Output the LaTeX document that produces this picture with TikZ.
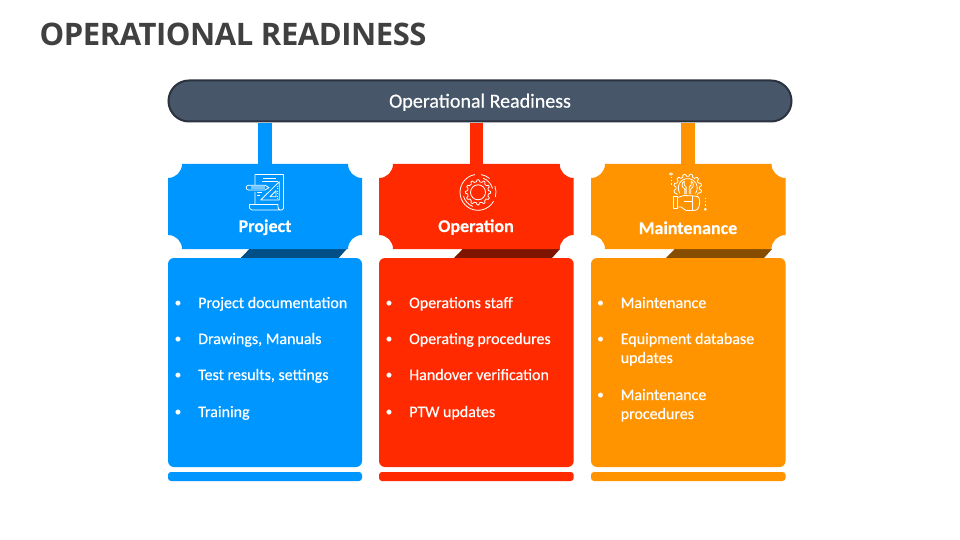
\documentclass[tikz,border=0pt]{standalone}
\usepackage{fontspec}
\setmainfont{Carlito}
\newfontfamily\titlefont[LetterSpace=-1.45]{Open Sans}
\newfontfamily\semifont[FakeBold=0.5]{Carlito}
\newfontfamily\headfont[FakeBold=0.4]{Carlito Bold}
\definecolor{cblue}{HTML}{0096FF}
\definecolor{cred}{HTML}{FF2A00}
\definecolor{corange}{HTML}{FF9300}
\definecolor{dblue}{HTML}{004F86}
\definecolor{dred}{HTML}{7D1500}
\definecolor{dorange}{HTML}{864D00}
\definecolor{pillfill}{HTML}{475669}
\definecolor{pillline}{HTML}{2A3240}
\definecolor{titlegray}{HTML}{404040}
\tikzset{
  x=1pt,y=-1pt,
  pill/.style={draw=pillline,line width=2pt,fill=pillfill,rounded corners=20.5pt,minimum width=623pt,minimum height=41pt,inner sep=0pt},
  pilltext/.style={text=white,inner sep=0pt,font=\semifont\fontsize{20}{22}\selectfont},
  anchorbox/.style={minimum width=194pt,minimum height=85pt,inner sep=0pt},
  cardtitle/.style={text=white,font=\headfont\fontsize{18}{20}\selectfont,inner sep=0pt,text height=12.5pt,text depth=4pt},
  item/.style={text=white,font=\semifont\fontsize{16}{19}\selectfont,anchor=west,inner sep=0pt,align=left,text height=11pt,text depth=3.5pt},
  bul/.style={text=white,font=\fontsize{14}{16}\selectfont,inner sep=0pt},
  icon/.style={draw=white,line width=0.8pt,line join=round},
  stem/.style={line width=13.5pt},
}
% #1 name, #2 left x, #3 colour, #4 dark colour, #5 width, #6 offset of the dark band
\newcommand{\card}[6]{%
  \fill[#4] (#2+#6,258) -- (#2+#6+8.7,249) -- (#2+#6+106,249) -- (#2+#6+98,258) -- cycle;
  \fill[#3] (#2+14,164) -- (#2+#5-14,164)
     arc[start angle=180,end angle=270,radius=14pt] -- (#2+#5,235)
     arc[start angle=90,end angle=180,radius=14pt] -- (#2+14,249)
     arc[start angle=0,end angle=90,radius=14pt] -- (#2,178)
     arc[start angle=-90,end angle=0,radius=14pt] -- cycle;
  \node[anchorbox] (#1) at (#2+#5/2,206.5) {};
  \fill[#3,rounded corners=6pt] (#2,258) rectangle (#2+#5,467);
  \fill[#3,rounded corners=3pt] (#2,472) rectangle (#2+#5,481);
}
\newcommand{\bulletitem}[4]{% name, x, y, text
  \node[bul] (#1b) at (#2+10,#3-0.5) {•};
  \node[item] (#1) at (#2+30,#3) {#4};
}
\begin{document}
\begin{tikzpicture}
\useasboundingbox (0,0) rectangle (960,540);
\fill[white] (0,0) rectangle (960,540);
\node[anchor=west,inner sep=0pt,text=titlegray,font=\titlefont\fontsize{31}{36}\selectfont\bfseries] (title) at (39.5,34) {OPERATIONAL READINESS};

\card{project}{168}{cblue}{dblue}{194}{72.7}
\card{operation}{379}{cred}{dred}{194.7}{75}
\card{maintenance}{591}{corange}{dorange}{194.5}{75}

\node[pill] (top) at (480,101) {};
\node[pilltext] (toplabel) at (480,102.3) {Operational Readiness};

\coordinate (sa) at (265,0);
\coordinate (sb) at (476.5,0);
\coordinate (sc) at (688,0);
\draw[stem,cblue] (top.south -| sa) ++(0,0.8) -- (project.north -| sa);
\draw[stem,cred] (top.south -| sb) ++(0,0.8) -- (operation.north -| sb);
\draw[stem,corange] (top.south -| sc) ++(0,0.8) -- (maintenance.north -| sc);

\node[cardtitle] (tp) at (265,227.8) {Project};
\node[cardtitle] (to) at (476,227.8) {Operation};
\node[cardtitle] (tm) at (688,229.8) {Maintenance};

\bulletitem{a1}{168}{304.3}{Project documentation}
\bulletitem{a2}{168}{340.3}{Drawings, Manuals}
\bulletitem{a3}{168}{376.3}{Test results, settings}
\bulletitem{a4}{168}{413.3}{Training}

\bulletitem{b1}{379}{304.3}{Operations staff}
\bulletitem{b2}{379}{340.3}{Operating procedures}
\bulletitem{b3}{379}{376.3}{Handover verification}
\bulletitem{b4}{379}{413.3}{PTW updates}

\bulletitem{c1}{590.5}{304.3}{Maintenance}
\bulletitem{c2}{590.5}{340.3}{Equipment database}
\node[item] (c2x) at (620.5,359.3) {updates};
\bulletitem{c3}{590.5}{396.3}{Maintenance}
\node[item] (c3x) at (620.5,415.3) {procedures};

% Project icon
\draw[icon] (255,204) -- (255,192) (255,185) -- (255,174.5) -- (283.5,174.5) -- (283.5,208) .. controls (283.5,211) and (278,211) .. (278,207) -- (278,204.5) -- (249.5,204.5) .. controls (249,208) and (250,210) .. (252,210) -- (281,210);
\draw[icon] (262.5,178.5) -- (276,178.5) (261.5,181) -- (277.5,181) (257,192.5) -- (262,192.5) (257,195) -- (260,195);
\draw[icon,fill=cblue] (248.5,185.2) -- (265,185.2) -- (269,187.6) -- (265,190) -- (248.5,190) .. controls (245.5,190) and (245.5,185.2) .. (248.5,185.2) -- cycle;
\fill[white,opacity=.45] (251,186.3) rectangle (265,188.9);
\draw[icon,fill=cblue] (260.7,200) -- (279.3,181.7) -- (279.3,200) -- cycle;
\draw[icon] (270,196.7) -- (276,190.7) -- (276,196.7) -- cycle;
\draw[white,line width=0.6pt,dash pattern=on 0.8pt off 1.6pt] (277.6,186) -- (277.6,199);

% Operation icon (y axis points up in these scopes)
\begin{scope}[shift={(478,192.3)},y=1pt]
\draw[icon] (100:18) arc[start angle=100,end angle=330,radius=18pt];
\draw[icon] (80:18) arc[start angle=80,end angle=50,radius=18pt];
\draw[icon] (20:18) arc[start angle=20,end angle=-15,radius=18pt];
\draw[icon] (70:15) arc[start angle=70,end angle=15,radius=15pt];
\draw[icon] (250:15) arc[start angle=250,end angle=195,radius=15pt];
\draw[icon] (0:12.6)
  \foreach \a in {0,30,...,330} {
    -- ({\a+4}:12.6) -- ({\a+9}:10.6) -- ({\a+21}:10.6) -- ({\a+26}:12.6)
  } -- cycle;
\draw[icon] (0,0) circle[radius=7.5pt];
\end{scope}

% Maintenance icon
\begin{scope}[shift={(687.7,188)},y=1pt]
\draw[icon] (212:12)
  \foreach \a in {195,165,...,-15} {
    -- ({\a+5}:14) -- ({\a-5}:14) -- ({\a-10}:11.7) -- ({\a-20}:11.7)
  };
\draw[icon] (215:9.5) arc[start angle=215,end angle=-35,radius=9.5pt];
\draw[icon] (-3.5,7) -- (-3.5,3) -- (-1.6,1) -- (-1.6,-6) (3.5,7) -- (3.5,3) -- (1.6,1) -- (1.6,-6)
  (-3.5,7) .. controls (-6.5,5) and (-6.5,1) .. (-3,-1) -- (-3,-6)
  (3.5,7) .. controls (6.5,5) and (6.5,1) .. (3,-1) -- (3,-6);
\end{scope}
\draw[icon,fill=corange] (673,196) rectangle (677.5,208.5);
\draw[icon,fill=corange] (677.5,197.5) -- (684,195.5) -- (695,196) .. controls (700,196) and (700,200) .. (699.5,204) .. controls (699,209) and (697,210.5) .. (693,210.5) -- (686,210.5) -- (681,207) -- (677.5,207) -- cycle;
\draw[icon] (684,201) -- (692,201) (692,196) -- (692,210);
\draw[icon] (671,174) ellipse[x radius=1.6pt,y radius=1.1pt];
\draw[white,line width=0.8pt,dash pattern=on 1.2pt off 2pt] (671,177) -- (671,185);
\draw[white,line width=0.8pt,dash pattern=on 1.2pt off 2pt] (705.3,198) -- (705.3,207);
\draw[icon] (705.3,209.3) circle[radius=1pt];
\end{tikzpicture}
\end{document}
